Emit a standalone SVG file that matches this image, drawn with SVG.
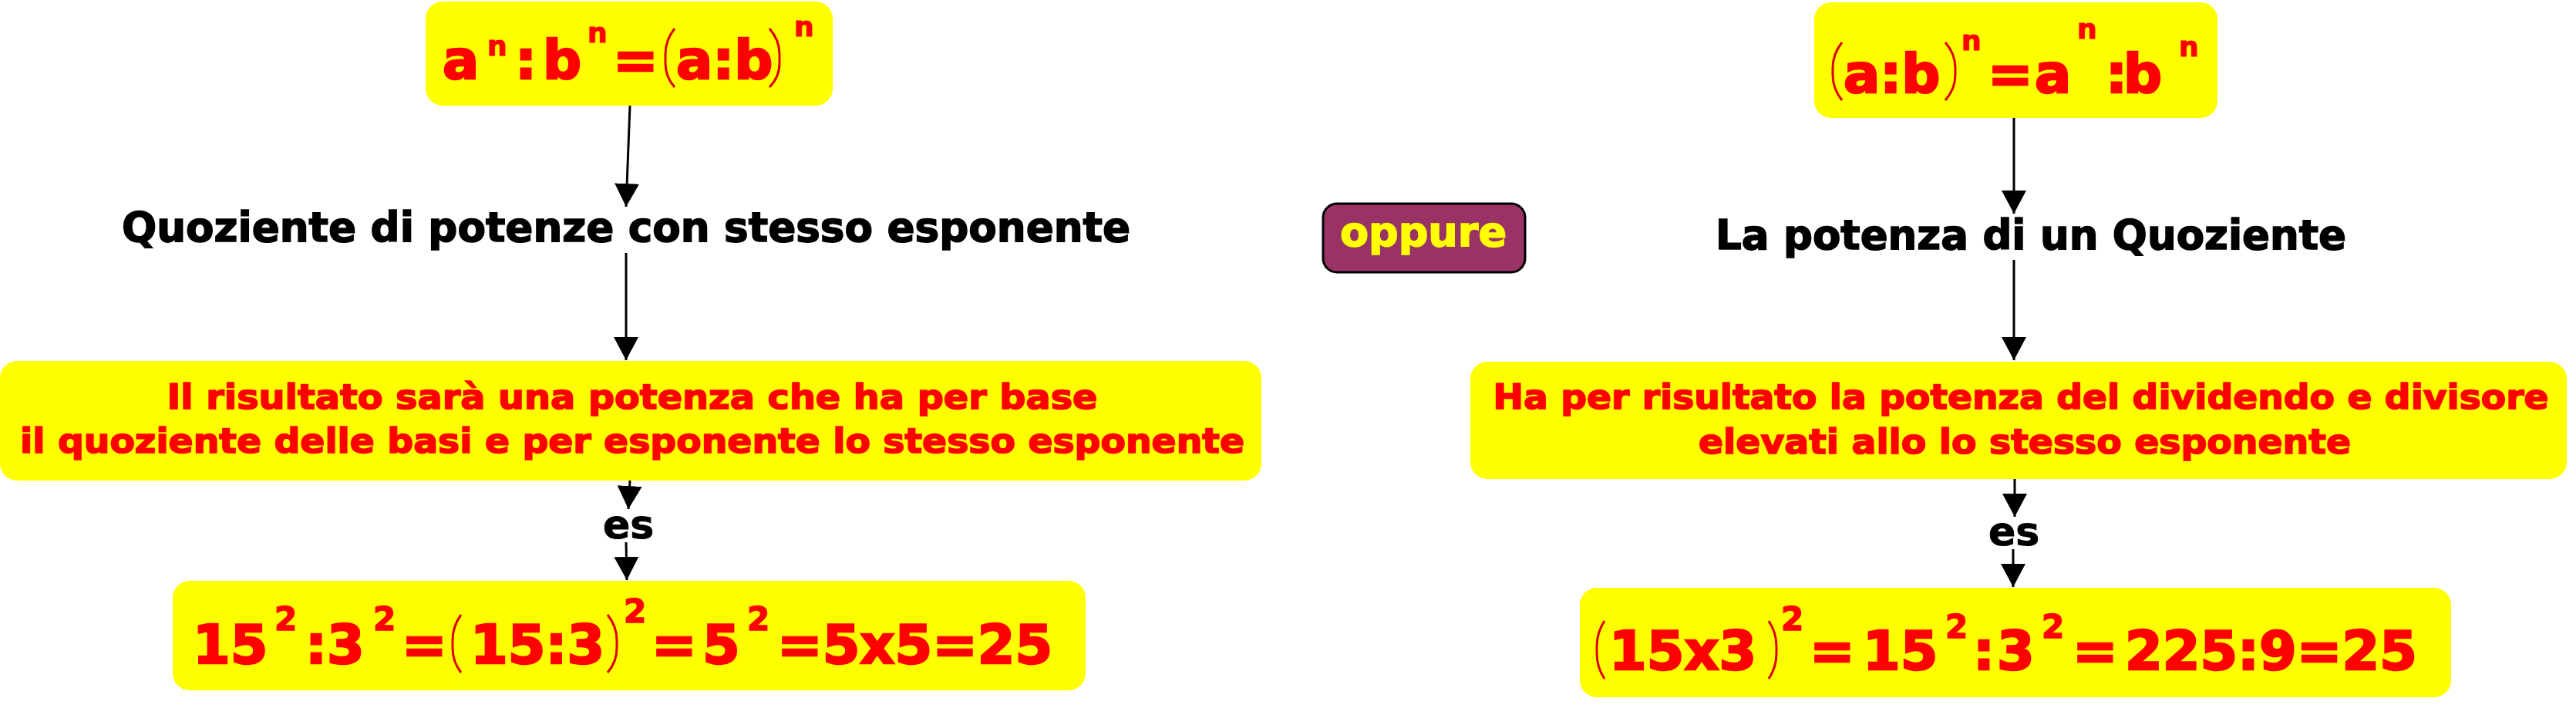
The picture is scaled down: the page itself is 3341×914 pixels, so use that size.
<svg xmlns="http://www.w3.org/2000/svg" width="3341" height="914" viewBox="0 0 3341 914">
<style>
.box{fill:#ffff00}
.f{font-family:"DejaVu Sans","Liberation Sans",sans-serif;font-weight:bold}
.red{fill:#ff0000;stroke:#ff0000}
.blk{fill:#000000;stroke:#000000}
.big{font-size:70px;stroke-width:2.5}
.supn{font-size:36px;stroke-width:1.2}
.supd{font-size:42px;stroke-width:1.5}
.mid{font-size:45px;stroke-width:1.6}
.lbl{font-size:54px;stroke-width:1.6}
.par{fill:none;stroke:#dd0000;stroke-width:3}
.con{stroke:#000;stroke-width:3;fill:none}
</style>
<defs>
<marker id="ah" viewBox="0 0 30 32" refX="30" refY="16" markerWidth="30" markerHeight="32" markerUnits="userSpaceOnUse" orient="auto">
<path d="M0,0 L30,16 L0,32 Z" fill="#000"/>
</marker>
</defs>
<rect width="3341" height="914" fill="#ffffff"/>

<g id="connectors">
<line class="con" x1="817" y1="137" x2="812" y2="268" marker-end="url(#ah)"/>
<line class="con" x1="812" y1="328" x2="812" y2="467" marker-end="url(#ah)"/>
<line class="con" x1="817" y1="623" x2="815" y2="660" marker-end="url(#ah)"/>
<line class="con" x1="812" y1="703" x2="813" y2="752" marker-end="url(#ah)"/>
<line class="con" x1="2612" y1="153" x2="2612" y2="277" marker-end="url(#ah)"/>
<line class="con" x1="2612" y1="337" x2="2612" y2="467" marker-end="url(#ah)"/>
<line class="con" x1="2613" y1="621" x2="2613" y2="670" marker-end="url(#ah)"/>
<line class="con" x1="2611" y1="712" x2="2611" y2="761" marker-end="url(#ah)"/>
</g>

<g id="formula-left">
<rect class="box" x="552" y="2" width="528" height="135" rx="22"/>
<text class="f red big" y="102"><tspan x="574">a</tspan><tspan x="668">:</tspan><tspan x="704">b</tspan><tspan x="795">=</tspan><tspan x="877">a:b</tspan></text>
<text class="f red supn"><tspan x="632" y="72">n</tspan><tspan x="762" y="55">n</tspan><tspan x="1030" y="47">n</tspan></text>
<path class="par" d="M875,37 Q863,52 863,70 L863,82 Q863,100 875,113"/>
<path class="par" d="M998,37 Q1011,52 1011,70 L1011,82 Q1011,100 998,113"/>
</g>

<g id="label-left">
<text class="f blk lbl" x="812" y="313" text-anchor="middle" textLength="1308" lengthAdjust="spacingAndGlyphs">Quoziente di potenze con stesso esponente</text>
</g>

<g id="result-left">
<rect class="box" x="0" y="468" width="1636" height="155" rx="22"/>
<text class="f red mid" x="820" y="530" text-anchor="middle" textLength="1207" lengthAdjust="spacingAndGlyphs">Il risultato sarà una potenza che ha per base</text>
<text class="f red mid" x="820" y="587" text-anchor="middle" textLength="1588" lengthAdjust="spacingAndGlyphs">il quoziente delle basi e per esponente lo stesso esponente</text>
</g>

<g id="es-left">
<text class="f blk" style="font-size:52px;stroke-width:1" x="815" y="698" text-anchor="middle">es</text>
</g>

<g id="example-left">
<rect class="box" x="224" y="753" width="1184" height="142" rx="22"/>
<text class="f red big" y="860"><tspan x="250">15</tspan><tspan x="396">:</tspan><tspan x="424">3</tspan><tspan x="521">=</tspan><tspan x="610">15:3</tspan><tspan x="845">=</tspan><tspan x="911">5</tspan><tspan x="1008">=5x5=25</tspan></text>
<text class="f red supd"><tspan x="356" y="817">2</tspan><tspan x="484" y="817">2</tspan><tspan x="809" y="807">2</tspan><tspan x="969" y="817">2</tspan></text>
<path class="par" d="M598,797 Q587,812 587,830 L587,840 Q587,858 598,872"/>
<path class="par" d="M788,797 Q800,812 800,830 L800,840 Q800,858 788,872"/>
</g>

<g id="oppure">
<rect x="1716" y="264" width="262" height="89" rx="18" fill="#993366" stroke="#000" stroke-width="3"/>
<text class="f lbl" x="1846" y="319" text-anchor="middle" fill="#ffff00" stroke="#ffff00" stroke-width="1">oppure</text>
</g>

<g id="formula-right">
<rect class="box" x="2353" y="3" width="523" height="150" rx="22"/>
<text class="f red big" y="120"><tspan x="2391">a:b</tspan><tspan x="2578">=</tspan><tspan x="2639">a</tspan><tspan x="2731">:</tspan><tspan x="2754">b</tspan></text>
<text class="f red supn"><tspan x="2544" y="65">n</tspan><tspan x="2694" y="50">n</tspan><tspan x="2826" y="73">n</tspan></text>
<path class="par" d="M2389,55 Q2377,70 2377,88 L2377,97 Q2377,115 2389,130"/>
<path class="par" d="M2523,55 Q2536,70 2536,88 L2536,97 Q2536,115 2523,130"/>
</g>

<g id="label-right">
<text class="f blk lbl" x="2634" y="323" text-anchor="middle" textLength="818" lengthAdjust="spacingAndGlyphs">La potenza di un Quoziente</text>
</g>

<g id="result-right">
<rect class="box" x="1907" y="469" width="1422" height="152" rx="22"/>
<text class="f red mid" x="2621" y="530" text-anchor="middle" textLength="1369" lengthAdjust="spacingAndGlyphs">Ha per risultato la potenza del dividendo e divisore</text>
<text class="f red mid" x="2626" y="588" text-anchor="middle" textLength="846" lengthAdjust="spacingAndGlyphs">elevati allo lo stesso esponente</text>
</g>

<g id="es-right">
<text class="f blk" style="font-size:52px;stroke-width:1" x="2612" y="707" text-anchor="middle">es</text>
</g>

<g id="example-right">
<rect class="box" x="2049" y="762" width="1130" height="142" rx="22"/>
<text class="f red big" y="868"><tspan x="2087">15x3</tspan><tspan x="2347">=</tspan><tspan x="2416">15</tspan><tspan x="2559">:</tspan><tspan x="2590">3</tspan><tspan x="2688">=</tspan><tspan x="2756">225:9=25</tspan></text>
<text class="f red supd"><tspan x="2310" y="817">2</tspan><tspan x="2523" y="827">2</tspan><tspan x="2648" y="827">2</tspan></text>
<path class="par" d="M2081,805 Q2071,820 2071,838 L2071,847 Q2071,865 2081,880"/>
<path class="par" d="M2294,805 Q2304,820 2304,838 L2304,847 Q2304,865 2294,880"/>
</g>
</svg>
